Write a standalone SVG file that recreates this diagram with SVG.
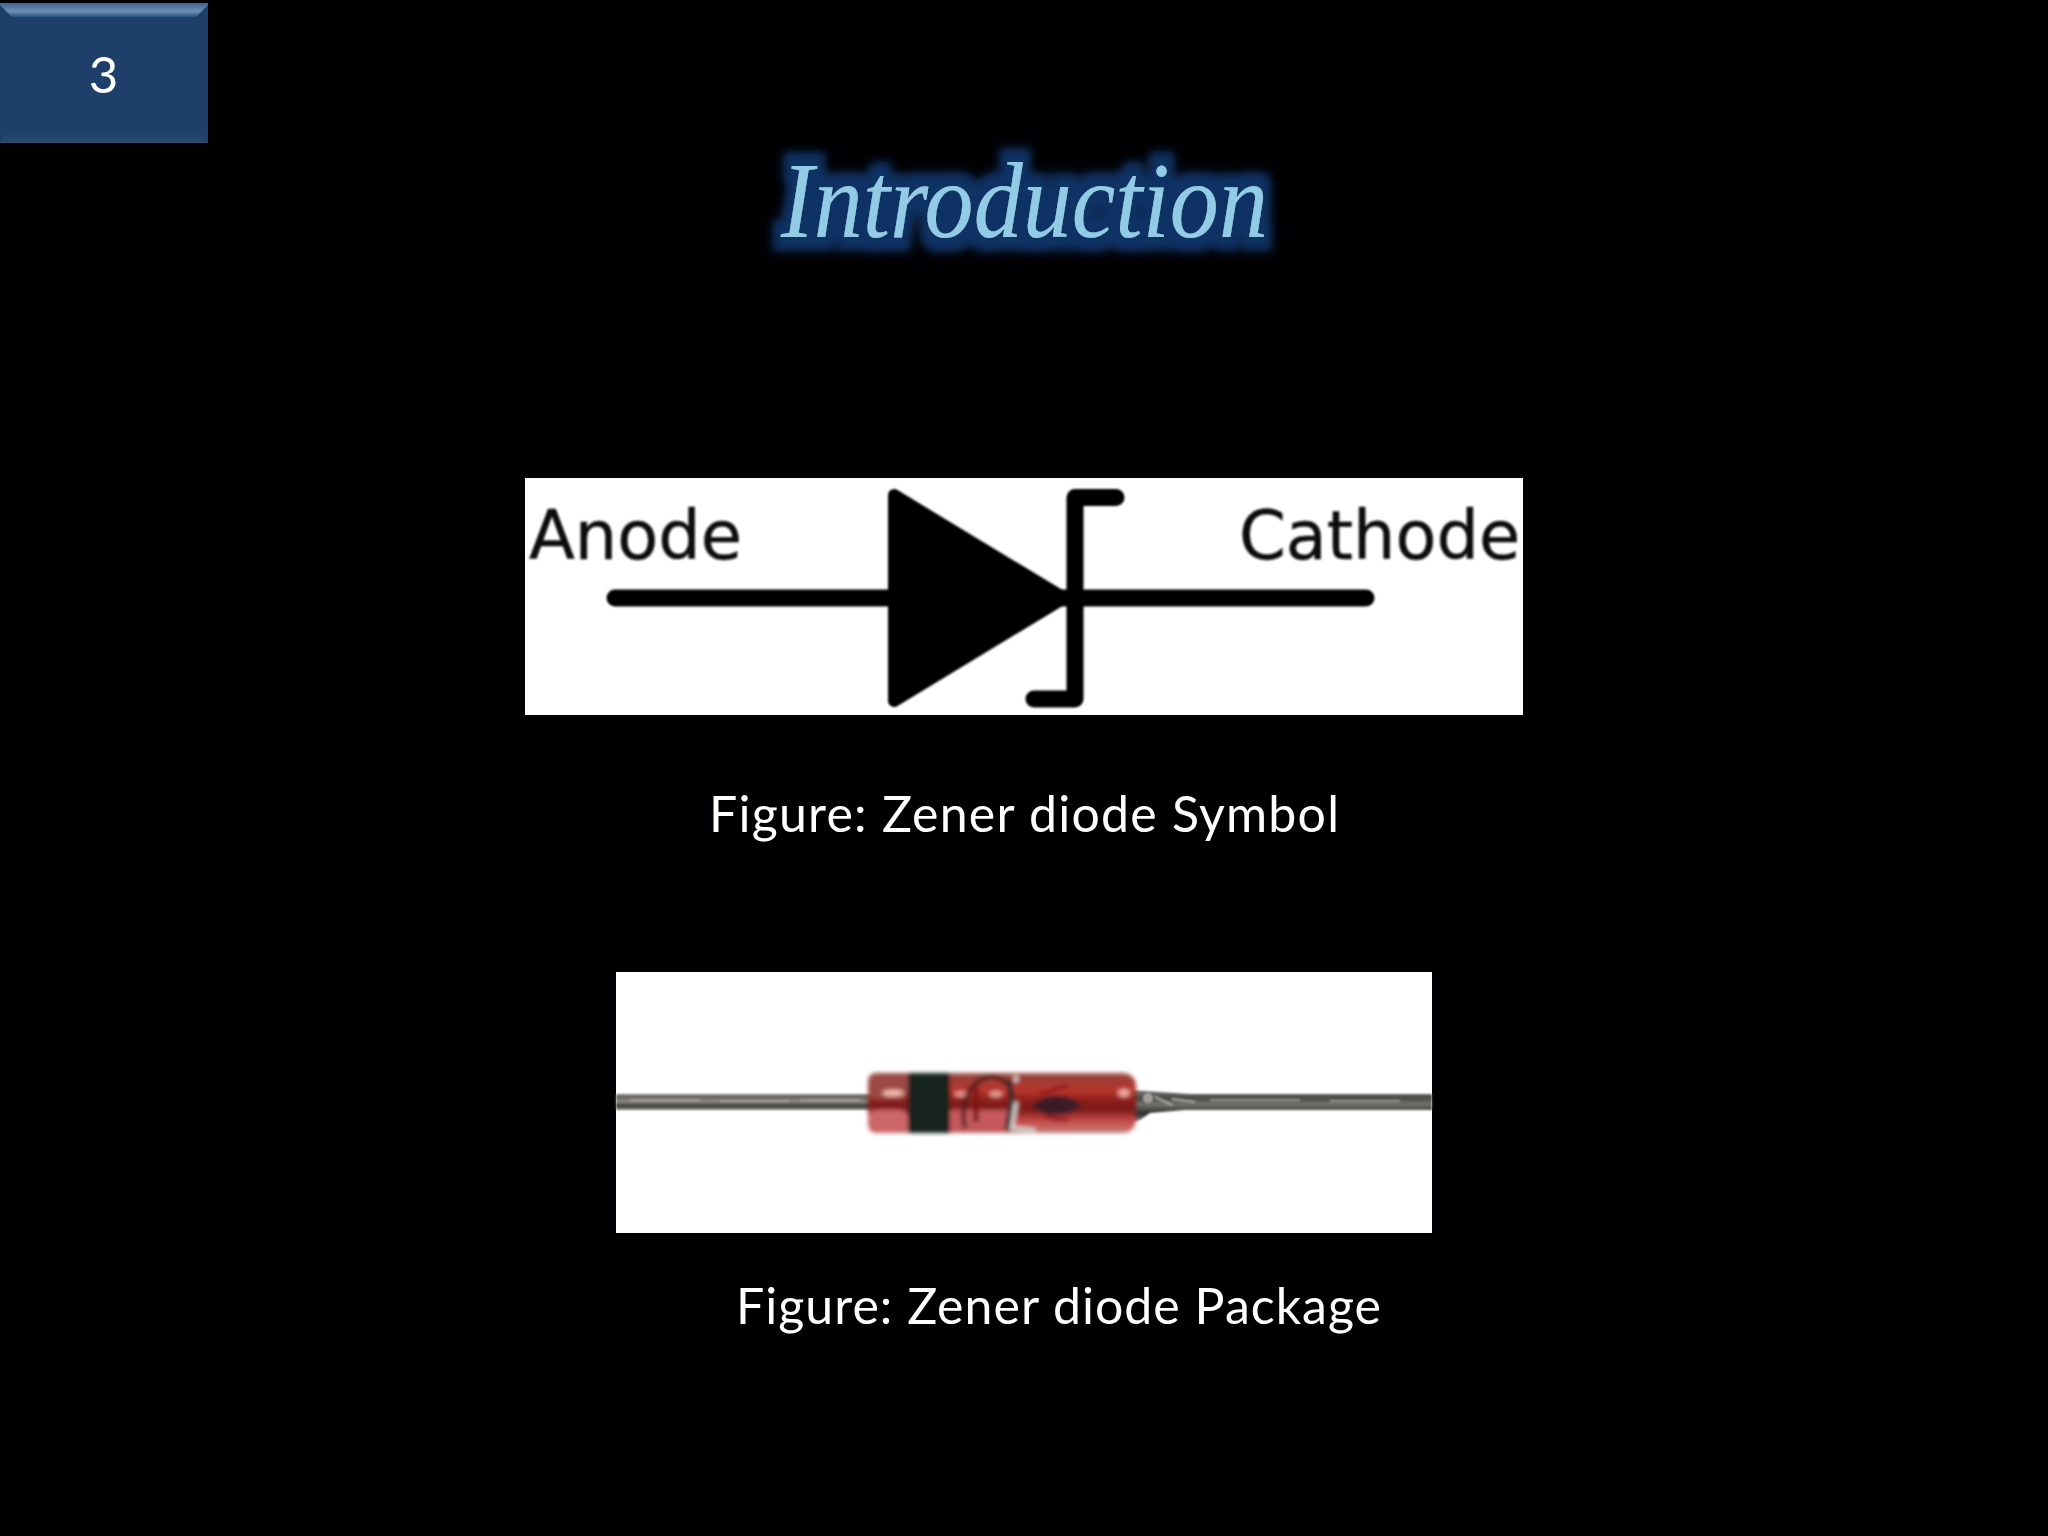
<svg xmlns="http://www.w3.org/2000/svg" width="2048" height="1536" viewBox="0 0 2048 1536">
<defs>
<linearGradient id="bevelTop" x1="0" y1="0" x2="0" y2="1"><stop offset="0" stop-color="#3c648f"/><stop offset="0.6" stop-color="#6d8fb2"/><stop offset="1" stop-color="#28507f"/></linearGradient>
<linearGradient id="bevelBot" x1="0" y1="0" x2="0" y2="1"><stop offset="0" stop-color="#1f3f6b"/><stop offset="1" stop-color="#2c4a70"/></linearGradient>
<linearGradient id="glass" x1="0" y1="0" x2="0" y2="1">
<stop offset="0" stop-color="#9a5650"/><stop offset="0.1" stop-color="#a03c34"/><stop offset="0.3" stop-color="#b8352c"/><stop offset="0.45" stop-color="#8c201a"/><stop offset="0.62" stop-color="#7c1a1a"/><stop offset="0.78" stop-color="#c04644"/><stop offset="0.93" stop-color="#cc6a66"/><stop offset="1" stop-color="#b08680"/>
</linearGradient>
<linearGradient id="wire" x1="0" y1="0" x2="0" y2="1"><stop offset="0" stop-color="#8a8a84"/><stop offset="0.2" stop-color="#62625c"/><stop offset="0.45" stop-color="#8e8e86"/><stop offset="0.75" stop-color="#3a3a36"/><stop offset="1" stop-color="#8c8c88"/></linearGradient>
<linearGradient id="wireDark" x1="0" y1="0" x2="0" y2="1"><stop offset="0" stop-color="#7a7a78"/><stop offset="0.25" stop-color="#484846"/><stop offset="0.45" stop-color="#74746e"/><stop offset="0.75" stop-color="#2a2a28"/><stop offset="1" stop-color="#8a8a88"/></linearGradient>
<filter id="glow" x="-15%" y="-40%" width="130%" height="180%">
<feMorphology in="SourceAlpha" operator="dilate" radius="8 14" result="d"/>
<feGaussianBlur in="d" stdDeviation="4" result="b"/>
<feFlood flood-color="#0f3163"/>
<feComposite in2="b" operator="in" result="g"/>
<feMerge><feMergeNode in="g"/><feMergeNode in="SourceGraphic"/></feMerge>
</filter>
<filter id="soft" x="-5%" y="-20%" width="110%" height="140%"><feGaussianBlur stdDeviation="0.8"/></filter>
<filter id="soft2" x="-5%" y="-20%" width="110%" height="140%"><feGaussianBlur stdDeviation="2"/></filter>
<style>
.cap{font-family:"Lato","Open Sans",sans-serif;font-size:50px;fill:#fff}
.sym{font-family:"DejaVu Sans",sans-serif;font-size:67px;fill:#111;stroke:#111;stroke-width:0.5}
.ln{fill:none;stroke:#000;stroke-linecap:round}
</style>
</defs>
<rect id="background" width="2048" height="1536" fill="#010103"/>
<g id="badge">
<rect x="0" y="3" width="208" height="140" fill="#1f3f6b"/>
<polygon points="0,3 208,3 208,5 196,17 12,17 0,5" fill="url(#bevelTop)"/>
<polygon points="0,143 208,143 200,133 6,133" fill="url(#bevelBot)"/>
<text x="103.500" y="93" text-anchor="middle" font-family="Lato,'Open Sans',sans-serif" font-size="51" fill="#fff">3</text>
</g>
<g id="title">
<text x="781" y="237" font-family="'Liberation Serif',serif" font-style="italic" font-size="108" textLength="487" lengthAdjust="spacingAndGlyphs" fill="#92cbe6" filter="url(#glow)">Introduction</text>
</g>
<g id="symbol-figure">
<rect x="525" y="478" width="998" height="237" fill="#fff"/>
<g filter="url(#soft)">
<text class="sym" x="529" y="559">Anode</text>
<text class="sym" x="1239" y="559">Cathode</text>
</g>
<g id="zener-symbol" filter="url(#soft)">
<line class="ln" x1="615" y1="598" x2="1366" y2="598" stroke-width="17"/>
<path d="M894 495 L1064 598 L894 701 Z" fill="#000" stroke="#000" stroke-width="12" stroke-linejoin="round"/>
<path class="ln" d="M1116 497.500 H1075 V699 H1034" stroke-width="17" stroke-linejoin="round"/>
</g>
</g>
<text class="cap" x="709" y="832" textLength="630">Figure: Zener diode Symbol</text>
<g id="package-figure">
<rect x="616" y="972" width="816" height="261" fill="#fff"/>
<g filter="url(#soft)">
<rect x="616" y="1094" width="256" height="16" fill="url(#wire)"/>
<path d="M1130 1090 L1145 1091 L1190 1094 H1432 V1110 H1185 L1150 1113 L1140 1120 L1130 1122 Z" fill="url(#wireDark)"/>
<path d="M630 1100 H700 M720 1101 H790 M800 1100 H860 M1210 1100 H1300 M1330 1101 H1400" stroke="#b4b4ac" stroke-width="2" opacity="0.6" fill="none"/>
<path d="M1155 1097 L1172 1105 M1172 1099 L1195 1102" stroke="#b8b8b0" stroke-width="2" opacity="0.8" fill="none"/>
<circle cx="1148" cy="1098" r="5" fill="#a0a098"/>
</g>
<g filter="url(#soft2)">
<rect x="868" y="1073" width="268" height="60" rx="13" fill="url(#glass)"/>
<rect x="868" y="1073" width="40" height="26" fill="#9c4a44" rx="8"/>
<rect x="868" y="1110" width="40" height="23" fill="#cc6668" rx="8"/>
<rect x="950" y="1110" width="62" height="22" fill="#c4585c"/>
<ellipse cx="893" cy="1093" rx="11" ry="3.500" fill="#f2b6ac"/>
<ellipse cx="961" cy="1094" rx="7" ry="3" fill="#e8948c"/>
<ellipse cx="996" cy="1094" rx="7" ry="3" fill="#ea9c90"/>
<path d="M965 1128 C960 1105 968 1080 990 1077 C1002 1076 1010 1084 1012 1094" stroke="#4e1c1e" stroke-width="4" fill="none"/>
<path d="M976 1086 V1122" stroke="#7c1414" stroke-width="5" fill="none"/>
<path d="M1009 1080 L1012 1100 L1007 1130" stroke="#2a2a2a" stroke-width="5" fill="none"/>
<path d="M1016 1076 V1082 M1016 1102 L1012 1128 L1035 1130" stroke="#d8d4d0" stroke-width="4" fill="none"/>
<path d="M1032 1106 C1045 1092 1066 1093 1082 1105 C1066 1118 1045 1118 1032 1106 Z" fill="#3a1a28"/>
<path d="M1040 1094 C1050 1090 1058 1088 1068 1086 M1045 1116 C1052 1119 1060 1120 1068 1120" stroke="#8a1018" stroke-width="3" fill="none"/>
<ellipse cx="1124" cy="1093" rx="6" ry="4" fill="#f2a89c"/>
<rect x="908" y="1073" width="42" height="60" fill="#17201e"/>
</g>
</g>
<text class="cap" x="736" y="1324" textLength="645">Figure: Zener diode Package</text>
</svg>
